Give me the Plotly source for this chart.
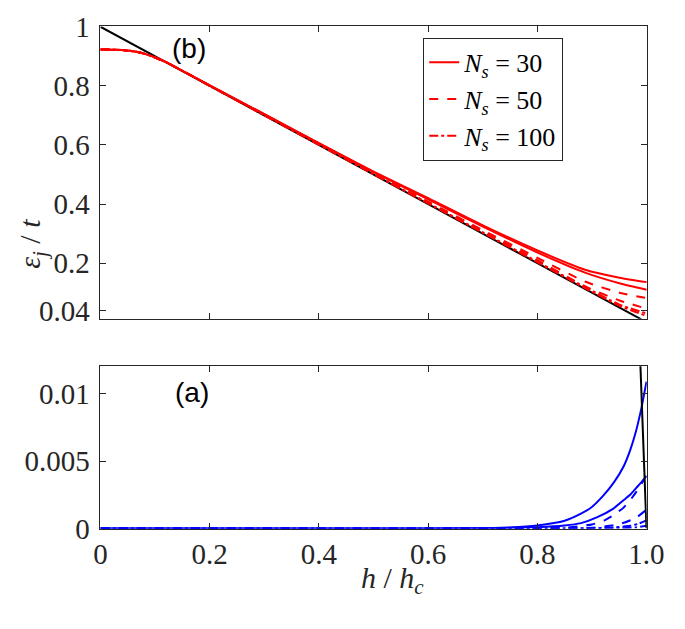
import plotly.graph_objects as go

# ---------------- data ----------------
# exact line (black) in top panel
h_exact = [0.0, 0.99]
eps_exact = [1.0, 0.01]

# top panel (b): red curves
h_top = [0.0, 0.03, 0.06, 0.08, 0.1, 0.12, 0.15, 0.2, 0.3, 0.4, 0.5, 0.6, 0.7, 0.8, 0.887, 0.95, 1.0]
eps_30a = [0.923, 0.922, 0.917, 0.909, 0.896, 0.880, 0.851, 0.802, 0.704, 0.606, 0.510, 0.420, 0.328, 0.243, 0.178, 0.151, 0.136]
eps_30b = [0.923, 0.922, 0.917, 0.909, 0.896, 0.880, 0.851, 0.802, 0.704, 0.605, 0.508, 0.416, 0.324, 0.236, 0.168, 0.132, 0.110]
eps_50a = [0.923, 0.922, 0.917, 0.909, 0.896, 0.880, 0.851, 0.801, 0.702, 0.603, 0.505, 0.408, 0.312, 0.218, 0.138, 0.100, 0.082]
eps_50b = [0.923, 0.922, 0.917, 0.909, 0.896, 0.880, 0.851, 0.801, 0.701, 0.602, 0.503, 0.405, 0.307, 0.210, 0.122, 0.074, 0.046]
eps_100a = [0.923, 0.922, 0.917, 0.909, 0.896, 0.880, 0.851, 0.800, 0.701, 0.601, 0.502, 0.403, 0.304, 0.205, 0.119, 0.060, 0.030]
eps_100b = [0.923, 0.922, 0.917, 0.909, 0.896, 0.880, 0.851, 0.800, 0.700, 0.601, 0.501, 0.402, 0.303, 0.203, 0.116, 0.056, 0.022]

# bottom panel (a): blue curves
h_b30a = [0.0, 0.5, 0.7, 0.75, 0.8, 0.85, 0.88, 0.9, 0.92, 0.94, 0.958, 0.97, 0.98, 0.99, 1.0]
d_30a = [0.0, 0.0, 0.00003, 0.00008, 0.00023, 0.00058, 0.0011, 0.0016, 0.0024, 0.0034, 0.0046, 0.0058, 0.0071, 0.0088, 0.0109]
h_b30b = [0.0, 0.5, 0.7, 0.8, 0.85, 0.88, 0.91, 0.94, 0.958, 0.97, 0.981, 0.99, 1.0]
d_30b = [0.0, 0.0, 0.00002, 0.0001, 0.00022, 0.0004, 0.00084, 0.0015, 0.0021, 0.0025, 0.0030, 0.0034, 0.0039]
h_b50a = [0.0, 0.7, 0.85, 0.9, 0.922, 0.94, 0.958, 0.97, 0.981, 0.995]
d_50a = [0.0, 0.0, 0.00005, 0.0003, 0.00058, 0.0010, 0.00155, 0.0021, 0.0027, 0.0036]
h_b50b = [0.0, 0.8, 0.9, 0.94, 0.96, 0.981, 1.0]
d_50b = [0.0, 0.0, 0.00005, 0.00024, 0.00045, 0.0008, 0.0014]
h_b100a = [0.0, 0.85, 0.93, 0.97, 0.985, 1.0]
d_100a = [0.0, 0.0, 0.00005, 0.0002, 0.00035, 0.0006]
h_b100b = [0.0, 0.9, 0.95, 0.98, 1.0]
d_100b = [0.0, 0.0, 0.00002, 0.00008, 0.0002]

# steep black curve in bottom panel
h_exact_b = [0.9885, 1.0]
d_exact_b = [0.0125, 0.0]

x_ticks = [0, 0.2, 0.4, 0.6, 0.8, 1.0]
x_ticklabels = ["0", "0.2", "0.4", "0.6", "0.8", "1.0"]
y_top_ticks = [0.04, 0.2, 0.4, 0.6, 0.8, 1.0]
y_top_ticklabels = ["0.04", "0.2", "0.4", "0.6", "0.8", "1"]
y_bot_ticks = [0, 0.005, 0.01]
y_bot_ticklabels = ["0", "0.005", "0.01"]

legend_names = ["<i>N</i><sub><i>s</i></sub> = 30",
                "<i>N</i><sub><i>s</i></sub> = 50",
                "<i>N</i><sub><i>s</i></sub> = 100"]

RED = "rgb(255,0,0)"
BLUE = "rgb(0,0,255)"
LW = 2

fig = go.Figure()

# top panel
fig.add_trace(go.Scatter(x=h_exact, y=eps_exact, mode="lines",
                         line=dict(color="black", width=LW), showlegend=False,
                         xaxis="x", yaxis="y"))
for ys, dash, name, show in [(eps_100b, "dashdot", legend_names[2], False),
                             (eps_100a, "dashdot", legend_names[2], True),
                             (eps_50b, "dash", legend_names[1], False),
                             (eps_50a, "dash", legend_names[1], True),
                             (eps_30b, "solid", legend_names[0], False),
                             (eps_30a, "solid", legend_names[0], True)]:
    rank = {"solid": 1, "dash": 2, "dashdot": 3}[dash]
    fig.add_trace(go.Scatter(x=h_top, y=ys, mode="lines", name=name,
                             line=dict(color=RED, width=LW, dash=dash, shape="spline", smoothing=0.6),
                             showlegend=show, legendrank=rank,
                             xaxis="x", yaxis="y"))

# bottom panel
for hx, ys, dash in [(h_b100b, d_100b, "dashdot"), (h_b100a, d_100a, "dashdot"),
                     (h_b50b, d_50b, "dash"), (h_b50a, d_50a, "dash"),
                     (h_b30b, d_30b, "solid"), (h_b30a, d_30a, "solid")]:
    fig.add_trace(go.Scatter(x=hx, y=ys, mode="lines",
                             line=dict(color=BLUE, width=LW, dash=dash, shape="spline", smoothing=0.5),
                             showlegend=False, xaxis="x2", yaxis="y2"))
fig.add_trace(go.Scatter(x=h_exact_b, y=d_exact_b, mode="lines",
                         line=dict(color="black", width=LW), showlegend=False,
                         xaxis="x2", yaxis="y2"))

W, H = 685, 629
x0, x1 = 97 / W, 664 / W
tick_font = dict(family="Liberation Serif", size=29, color="#262626")
axis_common = dict(showline=True, linecolor="#262626", linewidth=1, mirror="allticks",
                   ticks="inside", ticklen=6, tickcolor="#262626", showgrid=False,
                   zeroline=False, tickfont=tick_font, ticklabeloverflow="allow")

fig.update_layout(
    width=W, height=H, autosize=False,
    margin=dict(l=0, r=0, t=0, b=0),
    paper_bgcolor="white", plot_bgcolor="white",
    xaxis=dict(domain=[x0, x1], range=[0, 1], tickvals=x_ticks, showticklabels=False,
               anchor="y", **axis_common),
    yaxis=dict(domain=[(H - 319) / H, (H - 11) / H], range=[0.012, 1.001],
               tickvals=y_top_ticks, ticktext=y_top_ticklabels, anchor="x",
               ticklabelstandoff=4, **axis_common),
    xaxis2=dict(domain=[x0, x1], range=[0, 1.0005], tickvals=x_ticks, ticktext=x_ticklabels,
                anchor="y2", **axis_common),
    yaxis2=dict(domain=[(H - 540) / H, (H - 369) / H], range=[0, 0.01204],
                tickvals=y_bot_ticks, ticktext=y_bot_ticklabels, anchor="x2",
                ticklabelstandoff=4, **axis_common),
    legend=dict(x=432 / W, y=(H - 23) / H, xanchor="left", yanchor="top",
                bordercolor="#262626", borderwidth=1, bgcolor="white",
                font=dict(family="Liberation Serif", size=26, color="black"),
                itemwidth=30, tracegroupgap=0),
    annotations=[
        dict(text="(b)", x=189 / W, y=(H - 34) / H, xref="paper", yref="paper",
             xanchor="center", yanchor="middle",
             showarrow=False, font=dict(family="Liberation Sans", size=28, color="black")),
        dict(text="(a)", x=192 / W, y=(H - 397) / H, xref="paper", yref="paper",
             xanchor="center", yanchor="middle",
             showarrow=False, font=dict(family="Liberation Sans", size=28, color="black")),
        dict(text="<i>ε</i><sub><i>j</i></sub> / <i>t</i>", x=26 / W, y=(H - 240) / H,
             xref="paper", yref="paper", showarrow=False, textangle=-90,
             xanchor="center", yanchor="middle",
             font=dict(family="Liberation Serif", size=30, color="#262626")),
        dict(text="<i>h</i> / <i>h</i><sub><i>c</i></sub>", x=400 / W, y=(H - 594) / H,
             xref="paper", yref="paper", showarrow=False,
             xanchor="center", yanchor="middle",
             font=dict(family="Liberation Serif", size=30, color="#262626")),
    ],
)

fig.write_html("out.html")
